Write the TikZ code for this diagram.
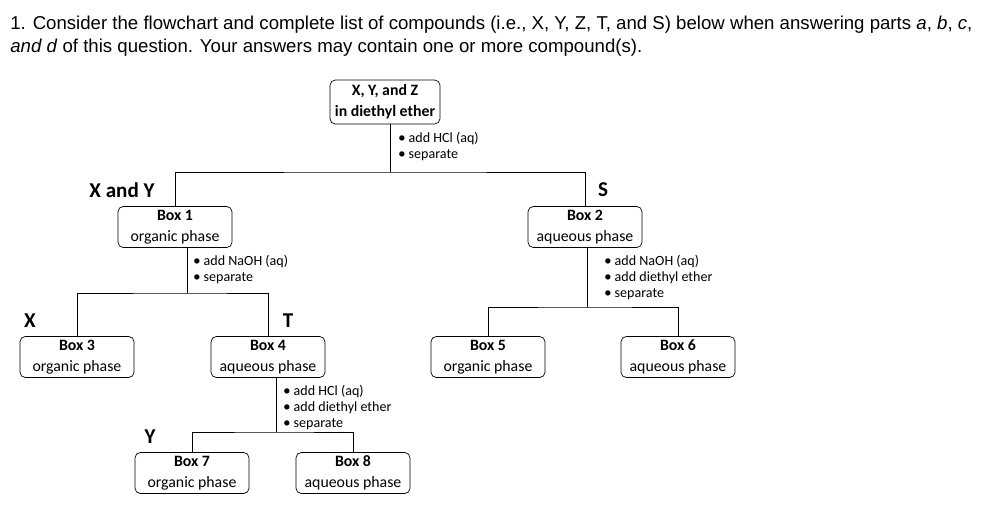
\documentclass[tikz,border=0pt]{standalone}
\usepackage{fontspec}
\setmainfont{Carlito}
\newfontfamily\arial{Liberation Sans}
\usetikzlibrary{positioning}
\begin{document}
\begin{tikzpicture}[x=0.02cm, y=-0.02cm, thin]
		\tikzset{
		    box/.style= {rectangle, rounded corners=3pt, draw=black, fill=white, minimum width=2.28cm, minimum height=0.82cm, align=center, font=\fontsize{9}{12}\selectfont, inner sep=1pt},
		    todo/.style= {anchor=north west, align=left, font=\fontsize{8}{9.2}\selectfont, inner sep=0pt},
		    tag/.style= {font=\bfseries\fontsize{12}{14}\selectfont, inner sep=0pt},
		}
		\newcommand{\blt}{\raisebox{0.15ex}{\scriptsize$\bullet$}\ }
		\useasboundingbox (0,0) rectangle (983,531);
		
		\node[anchor=west, inner sep=0pt, font=\arial\fontsize{10.6}{12}\selectfont] (q1) at (10,25) {1. Consider the flowchart and complete list of compounds (i.e., X, Y, Z, T, and S) below when answering parts \textit{a}, \textit{b}, \textit{c},};
		\node[anchor=west, inner sep=0pt, font=\arial\fontsize{10.6}{12}\selectfont] (q2) at (10,48) {\textit{and d} of this question. Your answers may contain one or more compound(s).};
		
		\node[box, minimum width=2.2cm, minimum height=0.88cm] (top) at (385,102) {\textbf{X, Y, and Z}\\\textbf{in diethyl ether}};
		\node[box] (b1) at (175,227) {\textbf{Box 1}\\organic phase};
		\node[box] (b2) at (585,227) {\textbf{Box 2}\\aqueous phase};
		\node[box] (b3) at (77,357) {\textbf{Box 3}\\organic phase};
		\node[box] (b4) at (268,357) {\textbf{Box 4}\\aqueous phase};
		\node[box] (b5) at (488,357) {\textbf{Box 5}\\organic phase};
		\node[box] (b6) at (678,357) {\textbf{Box 6}\\aqueous phase};
		\node[box] (b7) at (192,473) {\textbf{Box 7}\\organic phase};
		\node[box] (b8) at (353,473) {\textbf{Box 8}\\aqueous phase};
		
		\node[todo] (s0) at (398,132) {\blt add HCl (aq)\\\blt separate};
		\node[todo] (s1) at (193,255) {\blt add NaOH (aq)\\\blt separate};
		\node[todo] (s2) at (604,255) {\blt add NaOH (aq)\\\blt add diethyl ether\\\blt separate};
		\node[todo] (s4) at (283,385) {\blt add HCl (aq)\\\blt add diethyl ether\\\blt separate};
		
		\node[tag] (xy) at (122,190) {X and Y};
		\node[tag] (ls) at (603,190) {S};
		\node[tag] (lx) at (30,321) {X};
		\node[tag] (lt) at (288,321) {T};
		\node[tag] (ly) at (150,437) {Y};
		
		\coordinate (j0) at (390,172);
		\coordinate (j1) at (187,293);
		\coordinate (j2) at (587,307);
		\coordinate (j4) at (276,432);
		
		\draw (top.south -| j0) -- (j0);
		\draw (b1.north) |- (j0) -| (b2.north);
		\draw (b1.south -| j1) -- (j1);
		\draw (b3.north) |- (j1) -| (b4.north);
		\draw (b2.south -| j2) -- (j2);
		\draw (b5.north) |- (j2) -| (b6.north);
		\draw (b4.south -| j4) -- (j4);
		\draw (b7.north) |- (j4) -| (b8.north);
	\end{tikzpicture}
\end{document}
